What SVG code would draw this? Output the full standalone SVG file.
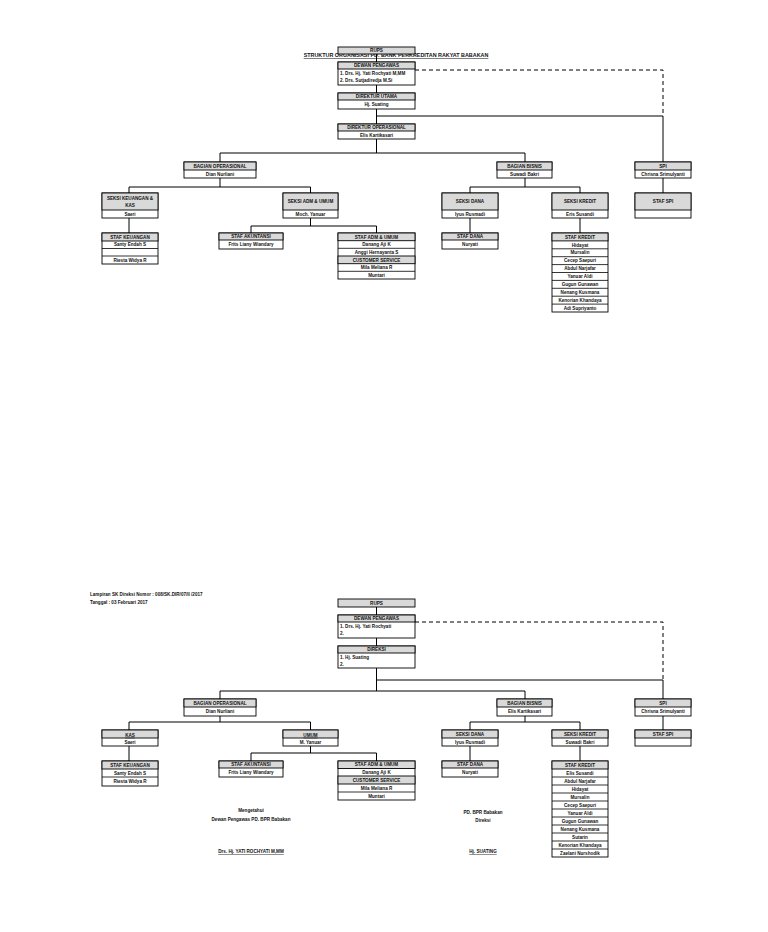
<svg xmlns="http://www.w3.org/2000/svg" width="768" height="932" viewBox="0 0 768 932">
<style>
.b{fill:#fff;stroke:#000;stroke-width:0.9}
.h{fill:#d9d9d9;stroke:#000;stroke-width:0.9}
.l{fill:none;stroke:#000;stroke-width:0.8}
.c{fill:none;stroke:#000;stroke-width:1}
.d{fill:none;stroke:#000;stroke-width:1;stroke-dasharray:4 3}
text{font-family:"Liberation Sans Narrow","Liberation Sans",Arial,sans-serif;font-size:4.6px;font-weight:bold;fill:#111;text-anchor:middle}
.s{text-anchor:start}
.u{text-decoration:underline}
.m{font-size:5.4px}
</style>
<rect width="768" height="932" fill="#fff"/>
<text x="396" y="57" class="m u">STRUKTUR ORGANISASI PD. BANK PERKREDITAN RAKYAT BABAKAN</text>

<g id="connectors">
<path class="c" d="M376.5 54V62M376.5 85V93M376.5 109V124M376.5 139V153M376.5 116H663V162M220 153H525M220 153V162M525 153V162M220 178V187M129 187H310.5M129 187V193M310.5 187V193M525 178V187M470 187H580M470 187V193M580 187V193M663 178V193M129 218V233M310.5 218V226M251 226H376.5M251 226V233M376.5 226V233M470 218V233M580 218V233"/>
<path class="d" d="M415 70H663V116"/>
<path class="c" d="M376.5 607V615M376.5 638V646M376.5 668V691M376.5 680H663V699M220 691H525M220 691V699M525 691V699M220 716V722M129 722H310.5M129 722V730M310.5 722V730M525 716V722M470 722H580M470 722V730M580 722V730M663 716V730M129 746V761M310.5 746V753M251 753H376.5M251 753V761M376.5 753V761M470 746V761M580 746V761"/>
<path class="d" d="M415 622H663V680"/>
</g>

<!-- TOP CHART -->
<g id="rups"><rect class="h" x="338" y="47" width="77" height="7"/><text x="376.5" y="52.2">RUPS</text></g>
<g id="dewan"><rect class="b" x="338" y="62" width="77" height="23"/><rect class="h" x="338" y="62" width="77" height="7"/><text x="376.5" y="67.2">DEWAN PENGAWAS</text><text class="s" x="340" y="74.8">1. Drs. Hj. Yati Rochyati M,MM</text><text class="s" x="340" y="82">2. Drs. Sutjadiredja M.Si</text></g>
<g id="dirut"><rect class="b" x="338" y="93" width="77" height="16"/><rect class="h" x="338" y="93" width="77" height="7"/><text x="376.5" y="98.2">DIREKTUR UTAMA</text><text x="376.5" y="106">Hj. Suating</text></g>
<g id="dirop"><rect class="b" x="338" y="124" width="77" height="15"/><rect class="h" x="338" y="124" width="77" height="7"/><text x="376.5" y="129.2">DIREKTUR OPERASIONAL</text><text x="376.5" y="136.6">Elis Kartikasari</text></g>
<g id="bop"><rect class="b" x="184" y="162" width="72" height="16"/><rect class="h" x="184" y="162" width="72" height="8"/><text x="220" y="167.7">BAGIAN OPERASIONAL</text><text x="220" y="175.6">Dian Nurliani</text></g>
<g id="bbis"><rect class="b" x="497" y="162" width="55" height="16"/><rect class="h" x="497" y="162" width="55" height="8"/><text x="524.5" y="167.7">BAGIAN BISNIS</text><text x="524.5" y="175.6">Suwadi Bakri</text></g>
<g id="spi"><rect class="b" x="635" y="162" width="56" height="16"/><rect class="h" x="635" y="162" width="56" height="8"/><text x="663" y="167.7">SPI</text><text x="663" y="175.6">Chrisna Srimulyanti</text></g>
<g id="skk"><rect class="b" x="102" y="193" width="56" height="25"/><rect class="h" x="102" y="193" width="56" height="17"/><text x="130" y="200">SEKSI KEUANGAN &amp;</text><text x="130" y="206.5">KAS</text><text x="130" y="215.6">Saeri</text></g>
<g id="sau"><rect class="b" x="283" y="193" width="55" height="25"/><rect class="h" x="283" y="193" width="55" height="17"/><text x="310.5" y="203">SEKSI ADM &amp; UMUM</text><text x="310.5" y="215.6">Moch. Yanuar</text></g>
<g id="sd"><rect class="b" x="442" y="193" width="56" height="25"/><rect class="h" x="442" y="193" width="56" height="17"/><text x="470" y="203">SEKSI DANA</text><text x="470" y="215.6">Iyus Rusmadi</text></g>
<g id="skr"><rect class="b" x="552" y="193" width="56" height="25"/><rect class="h" x="552" y="193" width="56" height="17"/><text x="580" y="203">SEKSI KREDIT</text><text x="580" y="215.6">Eris Susandi</text></g>
<g id="sspi"><rect class="b" x="635" y="193" width="56" height="25"/><rect class="h" x="635" y="193" width="56" height="17"/><text x="663" y="203">STAF SPI</text></g>
<g id="stk"><rect class="b" x="102" y="233" width="56" height="31"/><rect class="h" x="102" y="233" width="56" height="8"/><path class="l" d="M102 248.5H158M102 256H158"/><text x="130" y="238.7">STAF KEUANGAN</text><text x="130" y="246.4">Santy Endah S</text><text x="130" y="261.6">Riesta Widya R</text></g>
<g id="sta"><rect class="b" x="219" y="233" width="64" height="16"/><rect class="h" x="219" y="233" width="64" height="7"/><text x="251" y="238.2">STAF AKUNTANSI</text><text x="251" y="246.2">Frits Liany Wiandary</text></g>
<g id="sau2"><rect class="b" x="338" y="233" width="77" height="46"/><rect class="h" x="338" y="233" width="77" height="7.7"/><rect class="h" x="338" y="256" width="77" height="7.7"/><path class="l" d="M338 248.3H415M338 271.3H415"/><text x="376.5" y="238.5">STAF ADM &amp; UMUM</text><text x="376.5" y="246.2">Danang Aji K</text><text x="376.5" y="253.8">Anggi Hernayanta S</text><text x="376.5" y="261.5">CUSTOMER SERVICE</text><text x="376.5" y="269.2">Mila Meliana R</text><text x="376.5" y="276.8">Muntari</text></g>
<g id="sdn"><rect class="b" x="442" y="233" width="56" height="16"/><rect class="h" x="442" y="233" width="56" height="7"/><text x="470" y="238.2">STAF DANA</text><text x="470" y="246.2">Nuryati</text></g>
<g id="skrd"><rect class="b" x="552" y="233" width="56" height="79"/><rect class="h" x="552" y="233" width="56" height="7.9"/><path class="l" d="M552 248.8H608M552 256.7H608M552 264.6H608M552 272.5H608M552 280.4H608M552 288.3H608M552 296.2H608M552 304.1H608"/>
<text x="580" y="238.6">STAF KREDIT</text><text x="580" y="246.5">Hidayat</text><text x="580" y="254.4">Mursalin</text><text x="580" y="262.3">Cecep Saepuri</text><text x="580" y="270.2">Abdul Narjafar</text><text x="580" y="278.1">Yanuar Aldi</text><text x="580" y="286">Gugun Gunawan</text><text x="580" y="293.9">Nenang Kusmana</text><text x="580" y="301.8">Kenorian Khandaya</text><text x="580" y="309.7">Adi Supriyanto</text></g>

<!-- BOTTOM CHART -->
<text class="s" x="90" y="596">Lampiran SK Direksi Nomor : 008/SK.DIR/07/II       /2017</text>
<text class="s" x="90" y="604">Tanggal : 03 Februari 2017</text>
<g id="rups2"><rect class="h" x="338" y="599" width="77" height="8"/><text x="376.5" y="604.7">RUPS</text></g>
<g id="dewan2"><rect class="b" x="338" y="615" width="77" height="23"/><rect class="h" x="338" y="615" width="77" height="7"/><text x="376.5" y="620.2">DEWAN PENGAWAS</text><text class="s" x="340" y="627.8">1. Drs. Hj. Yati Rochyati</text><text class="s" x="340" y="635">2.</text></g>
<g id="direksi"><rect class="b" x="338" y="646" width="77" height="22"/><rect class="h" x="338" y="646" width="77" height="7"/><text x="376.5" y="651.2">DIREKSI</text><text class="s" x="340" y="658.6">1. Hj. Suating</text><text class="s" x="340" y="665.6">2.</text></g>
<g id="bop2"><rect class="b" x="184" y="699" width="72" height="17"/><rect class="h" x="184" y="699" width="72" height="8"/><text x="220" y="704.7">BAGIAN OPERASIONAL</text><text x="220" y="713.2">Dian Nurliani</text></g>
<g id="bbis2"><rect class="b" x="497" y="699" width="55" height="17"/><rect class="h" x="497" y="699" width="55" height="8"/><text x="524.5" y="704.7">BAGIAN BISNIS</text><text x="524.5" y="713.2">Elis Kartikasari</text></g>
<g id="spi2"><rect class="b" x="635" y="699" width="56" height="17"/><rect class="h" x="635" y="699" width="56" height="8"/><text x="663" y="704.7">SPI</text><text x="663" y="713.2">Chrisna Srimulyanti</text></g>
<g id="skk2"><rect class="b" x="102" y="730" width="56" height="16"/><rect class="h" x="102" y="730" width="56" height="8"/><text class="u" x="130" y="736.8">KAS</text><text x="130" y="743.6">Saeri</text></g>
<g id="sau3"><rect class="b" x="283" y="730" width="55" height="16"/><rect class="h" x="283" y="730" width="55" height="8"/><text class="u" x="310.5" y="736.8">UMUM</text><text x="310.5" y="743.6">M. Yanuar</text></g>
<g id="sd2"><rect class="b" x="442" y="730" width="56" height="16"/><rect class="h" x="442" y="730" width="56" height="8"/><text x="470" y="735.7">SEKSI DANA</text><text x="470" y="743.6">Iyus Rusmadi</text></g>
<g id="skr2"><rect class="b" x="552" y="730" width="56" height="16"/><rect class="h" x="552" y="730" width="56" height="8"/><text x="580" y="735.7">SEKSI KREDIT</text><text x="580" y="743.6">Suwadi Bakri</text></g>
<g id="sspi2"><rect class="b" x="635" y="730" width="56" height="16"/><rect class="h" x="635" y="730" width="56" height="8"/><text x="663" y="735.7">STAF SPI</text></g>
<g id="stk2"><rect class="b" x="102" y="761" width="56" height="25"/><rect class="h" x="102" y="761" width="56" height="8"/><path class="l" d="M102 777H158"/><text x="130" y="766.7">STAF KEUANGAN</text><text x="130" y="774.6">Santy Endah S</text><text x="130" y="782.8">Riesta Widya R</text></g>
<g id="sta2"><rect class="b" x="219" y="761" width="64" height="16"/><rect class="h" x="219" y="761" width="64" height="7"/><text x="251" y="766.2">STAF AKUNTANSI</text><text x="251" y="774.2">Frits Liany Wiandary</text></g>
<g id="sau4"><rect class="b" x="338" y="761" width="77" height="39"/><rect class="h" x="338" y="761" width="77" height="7.5"/><rect class="h" x="338" y="776" width="77" height="8"/><path class="l" d="M338 792H415"/><text x="376.5" y="766.4">STAF ADM &amp; UMUM</text><text x="376.5" y="773.9">Danang Aji K</text><text x="376.5" y="781.6">CUSTOMER SERVICE</text><text x="376.5" y="789.6">Mila Meliana R</text><text x="376.5" y="797.6">Muntari</text></g>
<g id="sdn2"><rect class="b" x="442" y="761" width="56" height="16"/><rect class="h" x="442" y="761" width="56" height="7"/><text x="470" y="766.2">STAF DANA</text><text x="470" y="774.2">Nuryati</text></g>
<g id="skrd2"><rect class="b" x="552" y="761" width="56" height="96"/><rect class="h" x="552" y="761" width="56" height="8"/><path class="l" d="M552 777H608M552 785H608M552 793H608M552 801H608M552 809H608M552 817H608M552 825H608M552 833H608M552 841H608M552 849H608"/>
<text x="580" y="766.6">STAF KREDIT</text><text x="580" y="774.6">Elis Susandi</text><text x="580" y="782.6">Abdul Narjafar</text><text x="580" y="790.6">Hidayat</text><text x="580" y="798.6">Mursalin</text><text x="580" y="806.6">Cecep Saepuri</text><text x="580" y="814.6">Yanuar Aldi</text><text x="580" y="822.6">Gugun Gunawan</text><text x="580" y="830.6">Nenang Kusmana</text><text x="580" y="838.6">Sutarin</text><text x="580" y="846.6">Kenorian Khandaya</text><text x="580" y="854.6">Zaelani Nurshodik</text></g>

<text x="251" y="812">Mengetahui</text>
<text x="251" y="821">Dewan Pengawas PD. BPR Babakan</text>
<text x="251" y="853" class="u">Drs. Hj. YATI ROCHYATI M,MM</text>
<text x="483" y="814">PD. BPR Babakan</text>
<text x="483" y="822">Direksi</text>
<text x="483" y="853" class="u">Hj. SUATING</text>
</svg>
